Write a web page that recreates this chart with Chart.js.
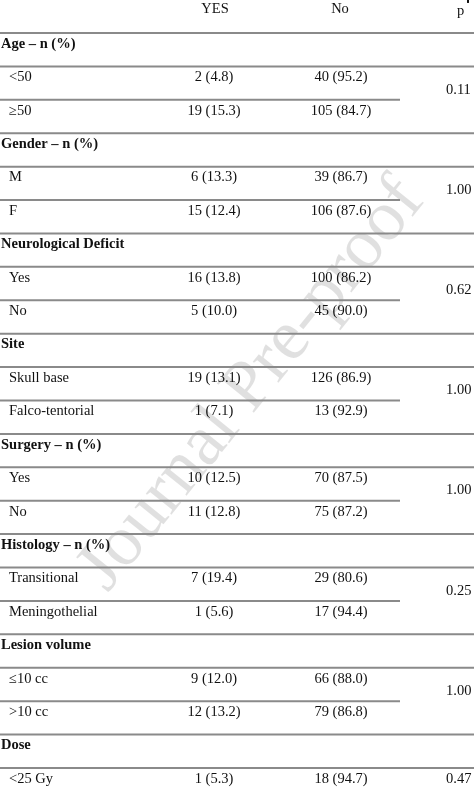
<!DOCTYPE html>
<html><head><meta charset="utf-8">
<script src="https://cdn.jsdelivr.net/npm/chart.js@4"></script>
<style>html,body{margin:0;padding:0;background:#fff}#c{display:block}</style>
</head><body>
<div style="width:474px;height:787px"><canvas id="c"></canvas></div>
<script>
const columns = ['YES', 'No', 'p'];
const rowLabels = ['Age – n (%)', '<50', '≥50', 'Gender – n (%)', 'M', 'F', 'Neurological Deficit', 'Yes', 'No',
  'Site', 'Skull base', 'Falco-tentorial', 'Surgery – n (%)', 'Yes', 'No', 'Histology – n (%)', 'Transitional',
  'Meningothelial', 'Lesion volume', '≤10 cc', '>10 cc', 'Dose', '<25 Gy'];
const isGroup = [1,0,0,1,0,0,1,0,0,1,0,0,1,0,0,1,0,0,1,0,0,1,0];
const yesN = [null,2,19,null,6,15,null,16,5,null,19,1,null,10,11,null,7,1,null,9,12,null,1];
const yesPct = [null,4.8,15.3,null,13.3,12.4,null,13.8,10.0,null,13.1,7.1,null,12.5,12.8,null,19.4,5.6,null,12.0,13.2,null,5.3];
const noN = [null,40,105,null,39,106,null,100,45,null,126,13,null,70,75,null,29,17,null,66,79,null,18];
const noPct = [null,95.2,84.7,null,86.7,87.6,null,86.2,90.0,null,86.9,92.9,null,87.5,87.2,null,80.6,94.4,null,88.0,86.8,null,94.7];
// p value per group, placed on the group's first sub-row index
const pRow = [1, 4, 7, 10, 13, 16, 19, 22];
const pValues = ['0.11', '1.00', '0.62', '1.00', '1.00', '0.25', '1.00', '0.47'];

const tablePlugin = {
  id: 'table',
  afterDraw(chart) {
    const ctx = chart.ctx, y = chart.scales.y, x = chart.scales.x;
    const W = chart.width;
    ctx.save();
    ctx.textBaseline = 'middle';
    // watermark
    ctx.save();
    ctx.translate(252, 385);
    ctx.rotate(-51 * Math.PI / 180);
    ctx.font = '72px "Liberation Serif"';
    ctx.fillStyle = 'rgba(0,0,0,0.12)';
    ctx.textAlign = 'center';
    ctx.fillText('Journal Pre-proof', 0, 0);
    ctx.restore();
    // lines
    ctx.strokeStyle = '#8a8a8a';
    ctx.lineWidth = 2;
    rowLabels.forEach((_, i) => {
      const py = y.getPixelForValue(i);
      const partial = !isGroup[i] && !isGroup[i - 1];
      ctx.beginPath();
      ctx.moveTo(0, py);
      ctx.lineTo(partial ? x.getPixelForValue(400) : W, py);
      ctx.stroke();
    });
    ctx.fillStyle = '#111';
    ctx.font = '14.5px "Liberation Serif"';
    ctx.textAlign = 'center';
    const hy = y.getPixelForValue(-0.72);
    ctx.fillText(columns[0], x.getPixelForValue(215), hy);
    ctx.fillText(columns[1], x.getPixelForValue(340), hy);
    ctx.textAlign = 'left';
    ctx.fillText(columns[2], x.getPixelForValue(457), hy + 2);
    ctx.fillRect(x.getPixelForValue(467), hy - 11, 2, 5);
    rowLabels.forEach((lab, i) => {
      const ty = y.getPixelForValue(i + 0.33);
      ctx.textAlign = 'left';
      if (isGroup[i]) {
        ctx.font = 'bold 14.5px "Liberation Serif"';
        ctx.fillText(lab, x.getPixelForValue(1), ty);
        return;
      }
      ctx.font = '14.5px "Liberation Serif"';
      ctx.fillText(lab, x.getPixelForValue(9), ty);
      ctx.textAlign = 'center';
      ctx.fillText(yesN[i] + ' (' + yesPct[i].toFixed(1) + ')', x.getPixelForValue(214), ty);
      ctx.fillText(noN[i] + ' (' + noPct[i].toFixed(1) + ')', x.getPixelForValue(341), ty);
    });
    ctx.textAlign = 'left';
    pRow.forEach((r, k) => {
      const last = r === rowLabels.length - 1;
      const py = y.getPixelForValue(last ? r + 0.33 : r + 0.7);
      ctx.fillText(pValues[k], x.getPixelForValue(446), py);
    });
    ctx.restore();
  }
};

new Chart(document.getElementById('c'), {
  type: 'scatter',
  data: { datasets: [{ data: [] }] },
  options: {
    responsive: true, maintainAspectRatio: false, animation: false,
    layout: { padding: { top: 33, left: 0, right: 0, bottom: 0 } },
    plugins: { legend: { display: false }, tooltip: { enabled: false } },
    scales: {
      x: { type: 'linear', min: 0, max: 474, display: false },
      y: { type: 'linear', min: 0, max: 22.57, reverse: true, display: false }
    }
  },
  plugins: [tablePlugin]
});
</script>
</body></html>
